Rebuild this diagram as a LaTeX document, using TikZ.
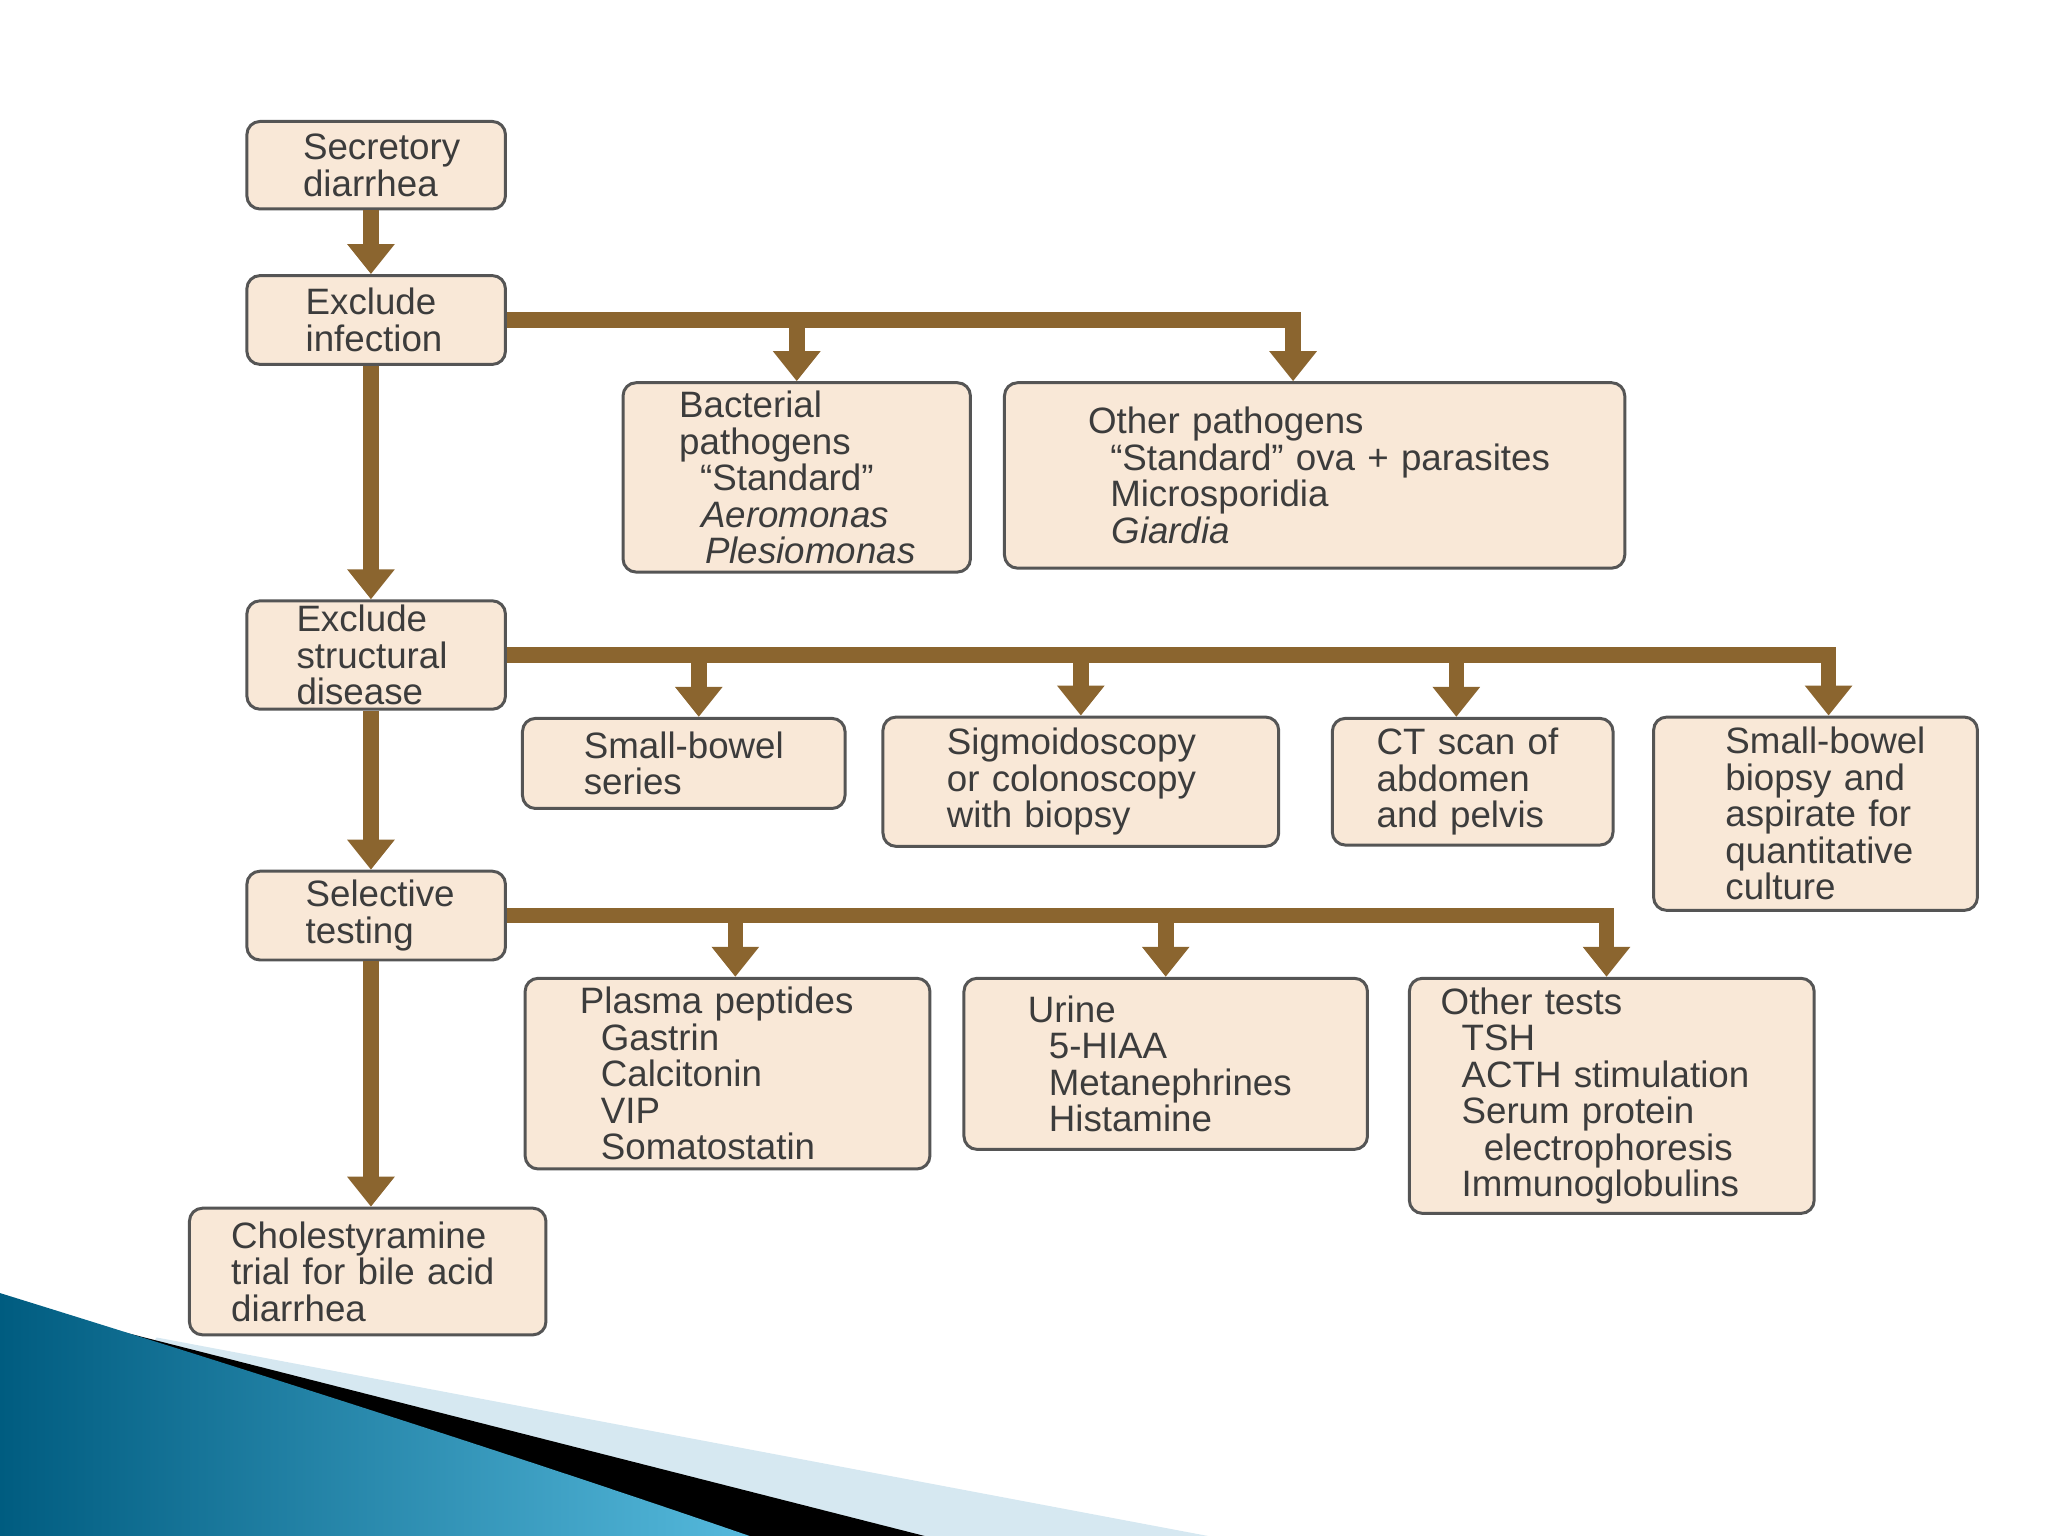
\documentclass[tikz,border=0pt]{standalone}
\usepackage{fontspec}
\setmainfont{Liberation Sans}
\usepackage{tikz}
\usetikzlibrary{arrows.meta,shapes,positioning}
\definecolor{dxbrown}{RGB}{139,101,47}
\definecolor{dxfill}{RGB}{249,232,215}
\definecolor{dxline}{RGB}{85,85,85}
\definecolor{dxtext}{RGB}{60,60,60}
\definecolor{dxteal}{RGB}{0,92,128}
\definecolor{dxcyan}{RGB}{85,185,220}
\definecolor{dxpale}{RGB}{214,232,241}
\hyphenpenalty=10000
\exhyphenpenalty=10000
\tikzstyle{box} = [rectangle, rounded corners=0.2cm, draw=dxline, fill=dxfill, line width=1.3pt, inner xsep=0pt, inner ysep=0pt, align=left, text=dxtext, font=\fontsize{16}{15.9}\selectfont]
\tikzstyle{arrow} = [line width=0.24cm, -{Triangle[width=0.7cm,length=0.46cm]}, color=dxbrown]

\begin{document}
\begin{tikzpicture}[x=0.02cm, y=-0.02cm]
\useasboundingbox (0,0) rectangle (1568,1176);

% slide decoration
\fill[dxpale] (120,1024) -- (925,1176) -- (0,1176) -- cycle;
\fill[black] (95,1020) -- (708,1176) -- (0,1176) -- cycle;
\shade[left color=dxteal, right color=dxcyan] (0,990) .. controls (200,1052) and (400,1116) .. (574,1176) -- (0,1176) -- cycle;

% main column
\node[box, minimum width=3.96cm, minimum height=1.34cm, text width=2.24cm] (sec) at (288,126.5) {Secretory\\diarrhea};
\node[box, minimum width=3.96cm, minimum height=1.36cm, text width=2.16cm] (inf) at (288,245) {Exclude\\infection};
\node[box, minimum width=3.96cm, minimum height=1.66cm, text width=2.44cm] (str) at (288,501.5) {Exclude\\structural\\disease};
\node[box, minimum width=3.96cm, minimum height=1.36cm, text width=2.16cm] (sel) at (288,701) {Selective\\testing};
\node[box, minimum width=5.46cm, minimum height=1.94cm, text width=4.18cm] (chol) at (281.5,973.5) {Cholestyramine\\trial~for~bile~acid\\diarrhea};

% infection
\node[box, minimum width=5.32cm, minimum height=2.90cm, text width=3.60cm] (bact) at (610,365.5) {Bacterial\\pathogens\\\hspace*{0.32cm}“Standard”\\\hspace*{0.34cm}\textit{Aeromonas}\\\hspace*{0.40cm}\textit{Plesiomonas}};
\node[box, minimum width=9.50cm, minimum height=2.84cm, text width=6.94cm] (othp) at (1006.5,364) {Other~pathogens\\\hspace*{0.34cm}“Standard”~ova~+~parasites\\\hspace*{0.34cm}Microsporidia\\\hspace*{0.36cm}\textit{Giardia}};

% structural disease
\node[box, minimum width=4.94cm, minimum height=1.38cm, text width=3.06cm] (sbs) at (523.5,584.5) {Small-bowel\\series};
\node[box, minimum width=6.06cm, minimum height=1.98cm, text width=4.10cm] (sig) at (827.5,598.5) {Sigmoidoscopy\\or~colonoscopy\\with~biopsy};
\node[box, minimum width=4.30cm, minimum height=1.94cm, text width=2.94cm] (ct) at (1127.5,598.5) {CT~scan~of\\abdomen\\and~pelvis};
\node[box, minimum width=4.96cm, minimum height=2.96cm, text width=2.76cm] (sbb) at (1390,623) {Small-bowel\\biopsy~and\\aspirate~for\\quantitative\\culture};

% selective testing
\node[box, minimum width=6.20cm, minimum height=2.92cm, text width=4.52cm] (plas) at (557,822) {Plasma~peptides\\\hspace*{0.32cm}Gastrin\\\hspace*{0.32cm}Calcitonin\\\hspace*{0.32cm}VIP\\\hspace*{0.32cm}Somatostatin};
\node[box, minimum width=6.18cm, minimum height=2.62cm, text width=4.22cm] (uri) at (892.5,814.5) {Urine\\\hspace*{0.32cm}5-HIAA\\\hspace*{0.32cm}Metanephrines\\\hspace*{0.32cm}Histamine};
\node[box, minimum width=6.20cm, minimum height=3.60cm, text width=5.24cm] (oth) at (1234,839) {Other~tests\\\hspace*{0.32cm}TSH\\\hspace*{0.32cm}ACTH~stimulation\\\hspace*{0.32cm}Serum~protein\\\hspace*{0.66cm}electrophoresis\\\hspace*{0.32cm}Immunoglobulins};

% trunk
\draw[arrow] ([xshift=-0.08cm]sec.south) -- ([xshift=-0.08cm]inf.north);
\draw[arrow] ([xshift=-0.08cm]inf.south) -- ([xshift=-0.08cm]str.north);
\draw[arrow] ([xshift=-0.08cm]str.south) -- ([xshift=-0.08cm]sel.north);
\draw[arrow] ([xshift=-0.08cm]sel.south) -- ([xshift=-0.08cm]sel.south |- chol.north);

% branches
\draw[arrow] (inf.east) -| ([xshift=-0.33cm]othp.north);
\draw[arrow] (bact.north |- inf.east) -- (bact.north);

\draw[arrow] (str.east) -| ([xshift=0.2cm]sbb.north);
\draw[arrow] ([xshift=0.23cm]sbs.north |- str.east) -- ([xshift=0.23cm]sbs.north);
\draw[arrow] (sig.north |- str.east) -- (sig.north);
\draw[arrow] ([xshift=-0.25cm]ct.north |- str.east) -- ([xshift=-0.25cm]ct.north);

\draw[arrow] (sel.east) -| ([xshift=-0.08cm]oth.north);
\draw[arrow] ([xshift=0.12cm]plas.north |- sel.east) -- ([xshift=0.12cm]plas.north);
\draw[arrow] (uri.north |- sel.east) -- (uri.north);
\end{tikzpicture}
\end{document}
